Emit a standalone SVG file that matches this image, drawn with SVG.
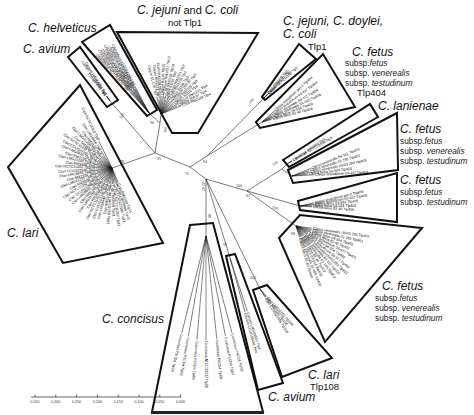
<svg xmlns="http://www.w3.org/2000/svg" width="474" height="415" viewBox="0 0 474 415">
<style>
.bx{fill:none;stroke:#111;stroke-width:2;stroke-linejoin:miter}
.tr line{stroke:#222;stroke-width:0.6;fill:none}
.f line{stroke:#111;stroke-width:0.5}
.f text{font-family:"Liberation Sans",Arial,sans-serif;font-size:3.6px;fill:#000}
.f text.fl{text-anchor:end}
.bs{font-family:"Liberation Sans",Arial,sans-serif;font-size:3.6px;fill:#333}
.sp{font-family:"Liberation Sans",Arial,sans-serif;font-size:12px;font-style:italic;fill:#111}
.ss{font-family:"Liberation Sans",Arial,sans-serif;font-size:8.3px;fill:#222}
.tl{font-family:"Liberation Sans",Arial,sans-serif;font-size:9.5px;fill:#111}
.it{font-style:italic}
</style>
<rect width="474" height="415" fill="#fff"/>

<g id="connectors" class="tr">
<line x1="155" y1="153" x2="112" y2="168"/>
<line x1="155" y1="153" x2="110" y2="101"/>
<line x1="155" y1="153" x2="160" y2="123"/>
<line x1="160" y1="123" x2="149" y2="113"/>
<line x1="160" y1="123" x2="161" y2="114"/>
<line x1="155" y1="153" x2="190" y2="167"/>
<line x1="190" y1="167" x2="207" y2="156"/>
<line x1="207" y1="156" x2="264" y2="98"/>
<line x1="207" y1="156" x2="262" y2="122"/>
<line x1="190" y1="167" x2="206" y2="179"/>
<line x1="206" y1="179" x2="247" y2="191"/>
<line x1="247" y1="191" x2="282" y2="169"/>
<line x1="282" y1="169" x2="287" y2="164"/>
<line x1="282" y1="169" x2="292" y2="176"/>
<line x1="247" y1="191" x2="300" y2="206"/>
<line x1="247" y1="191" x2="296" y2="226"/>
<line x1="206" y1="179" x2="206" y2="236"/>
<line x1="206" y1="179" x2="230" y2="258"/>
<line x1="206" y1="179" x2="260" y2="289"/>
<text class="bs" x="157" y="160">95</text>
<text class="bs" transform="translate(121,119) rotate(-55)">100</text>
<text class="bs" x="150" y="124">96</text>
<text class="bs" transform="translate(166,133) rotate(-80)">100</text>
<text class="bs" x="185" y="175">71</text>
<text class="bs" x="203" y="163">94</text>
<text class="bs" transform="translate(250,104) rotate(-45)">100</text>
<text class="bs" transform="translate(202,182) rotate(90)">42 42</text>
<text class="bs" x="236" y="187">100</text>
<text class="bs" x="246" y="197">67</text>
<text class="bs" transform="translate(273,166) rotate(-30)">100</text>
<text class="bs" transform="translate(272,208) rotate(20)">100</text>
<text class="bs" x="291" y="235">98</text>
<text class="bs" transform="translate(208,214) rotate(90)">88</text>
<text class="bs" x="223" y="246">95</text>
<text class="bs" x="250" y="279">100</text>
<text class="bs" x="120" y="163">78</text>
</g>

<g id="lari-big">
<polygon class="bx" points="80,85 8,167 63,263 163,243"/>
<g class="f" transform="translate(112,168)">
<g transform="rotate(67)"><line x2="16"/><text x="17" y="1.2">Clari RM2100 Tlp11</text></g>
<g transform="rotate(72)"><line x2="20"/><text x="21" y="1.2">Clari LMG8846 Tlp11</text></g>
<g transform="rotate(77)"><line x2="16"/><text x="17" y="1.2">Clari CCUG22395 Tlp11</text></g>
<g transform="rotate(83)"><line x2="20"/><text x="21" y="1.2">Clari NCTC11352 Tlp11</text></g>
<g transform="rotate(88)"><line x2="16"/><text x="17" y="1.2">Clari RM3659 Tlp11</text></g>
<g transform="rotate(94)"><line x2="20"/><text x="21" y="1.2">Clari LMG11250 Tlp11</text></g>
<g transform="rotate(99)"><line x2="16"/><text class="fl" transform="rotate(180)" x="-17" y="1.2">Clari RM2100 Tlp9</text></g>
<g transform="rotate(105)"><line x2="20"/><text class="fl" transform="rotate(180)" x="-21" y="1.2">Clari LMG8846 Tlp9</text></g>
<g transform="rotate(110)"><line x2="16"/><text class="fl" transform="rotate(180)" x="-17" y="1.2">Clari CCUG22395 Tlp9</text></g>
<g transform="rotate(116)"><line x2="20"/><text class="fl" transform="rotate(180)" x="-21" y="1.2">Clari NCTC11352 Tlp9</text></g>
<g transform="rotate(121)"><line x2="16"/><text class="fl" transform="rotate(180)" x="-17" y="1.2">Clari RM3659 Tlp9</text></g>
<g transform="rotate(127)"><line x2="20"/><text class="fl" transform="rotate(180)" x="-21" y="1.2">Clari LMG11250 Tlp9</text></g>
<g transform="rotate(132)"><line x2="16"/><text class="fl" transform="rotate(180)" x="-17" y="1.2">Clari RM2100 Tlp6</text></g>
<g transform="rotate(138)"><line x2="20"/><text class="fl" transform="rotate(180)" x="-21" y="1.2">Clari LMG8846 Tlp6</text></g>
<g transform="rotate(143)"><line x2="16"/><text class="fl" transform="rotate(180)" x="-17" y="1.2">Clari CCUG22395 Tlp6</text></g>
<g transform="rotate(149)"><line x2="20"/><text class="fl" transform="rotate(180)" x="-21" y="1.2">Clari NCTC11352 Tlp6</text></g>
<g transform="rotate(154)"><line x2="16"/><text class="fl" transform="rotate(180)" x="-17" y="1.2">Clari RM3659 Tlp6</text></g>
<g transform="rotate(160)"><line x2="20"/><text class="fl" transform="rotate(180)" x="-21" y="1.2">Clari LMG11250 Tlp6</text></g>
<g transform="rotate(165)"><line x2="16"/><text class="fl" transform="rotate(180)" x="-17" y="1.2">Clari RM2100 Tlp5</text></g>
<g transform="rotate(171)"><line x2="20"/><text class="fl" transform="rotate(180)" x="-21" y="1.2">Clari LMG8846 Tlp5</text></g>
<g transform="rotate(176)"><line x2="16"/><text class="fl" transform="rotate(180)" x="-17" y="1.2">Clari CCUG22395 Tlp5</text></g>
<g transform="rotate(182)"><line x2="20"/><text class="fl" transform="rotate(180)" x="-21" y="1.2">Clari NCTC11352 Tlp5</text></g>
<g transform="rotate(187)"><line x2="16"/><text class="fl" transform="rotate(180)" x="-17" y="1.2">Clari RM3659 Tlp5</text></g>
<g transform="rotate(193)"><line x2="20"/><text class="fl" transform="rotate(180)" x="-21" y="1.2">Clari LMG11250 Tlp5</text></g>
<g transform="rotate(198)"><line x2="16"/><text class="fl" transform="rotate(180)" x="-17" y="1.2">Clari RM2100 Tlp12</text></g>
<g transform="rotate(204)"><line x2="20"/><text class="fl" transform="rotate(180)" x="-21" y="1.2">Clari LMG8846 Tlp12</text></g>
<g transform="rotate(209)"><line x2="16"/><text class="fl" transform="rotate(180)" x="-17" y="1.2">Clari CCUG22395 Tlp12</text></g>
<g transform="rotate(215)"><line x2="20"/><text class="fl" transform="rotate(180)" x="-21" y="1.2">Clari NCTC11352 Tlp12</text></g>
<g transform="rotate(220)"><line x2="16"/><text class="fl" transform="rotate(180)" x="-17" y="1.2">Clari RM3659 Tlp12</text></g>
<g transform="rotate(226)"><line x2="20"/><text class="fl" transform="rotate(180)" x="-21" y="1.2">Clari LMG11250 Tlp12</text></g>
<g transform="rotate(231)"><line x2="16"/><text class="fl" transform="rotate(180)" x="-17" y="1.2">Clari RM2100 Tlp8</text></g>
<g transform="rotate(237)"><line x2="20"/><text class="fl" transform="rotate(180)" x="-21" y="1.2">Clari LMG8846 Tlp8</text></g>
<g transform="rotate(244)"><line x2="30"/><text class="fl" transform="rotate(180)" x="-31" y="1.2">Clari NCTC11352 Tlp8</text></g>
</g>
<text class="sp" x="7" y="237">C. lari</text>
</g>

<g id="avium-top">
<polygon class="bx" points="68,57 80,47 118,100 107,107"/>
<g class="f" transform="translate(110,101)">
<g transform="rotate(-122)"><line x2="6"/><text class="fl" transform="rotate(180)" x="-7" y="1.2">Cavium LMG24591 Tlp1</text></g>
<g transform="rotate(-125)"><line x2="6"/><text class="fl" transform="rotate(180)" x="-7" y="1.2">Cavium CCUG56493 Tlp1</text></g>
<g transform="rotate(-128)"><line x2="6"/><text class="fl" transform="rotate(180)" x="-7" y="1.2">Cavium 86Q Tlp1</text></g>
</g>
<text class="sp" x="23" y="53">C. avium</text>
</g>

<g id="helveticus">
<polygon class="bx" points="82,42 110,25 157,110 147,116"/>
<g class="f" transform="translate(149,113)">
<g transform="rotate(-132)"><line x2="30"/><text class="fl" transform="rotate(180)" x="-31" y="1.2">Chelveticus NCTC12470 Tlp3</text></g>
<g transform="rotate(-130.25)"><line x2="28"/><text class="fl" transform="rotate(180)" x="-29" y="1.2">Chelveticus NCTC12470 Tlp4</text></g>
<g transform="rotate(-128.5)"><line x2="32"/><text class="fl" transform="rotate(180)" x="-33" y="1.2">Chelveticus NCTC12470 Tlp5</text></g>
<g transform="rotate(-126.75)"><line x2="30"/><text class="fl" transform="rotate(180)" x="-31" y="1.2">Chelveticus CCUG34016 Tlp3</text></g>
<g transform="rotate(-125)"><line x2="28"/><text class="fl" transform="rotate(180)" x="-29" y="1.2">Chelveticus CCUG34016 Tlp4</text></g>
<g transform="rotate(-123.25)"><line x2="32"/><text class="fl" transform="rotate(180)" x="-33" y="1.2">Chelveticus CCUG34016 Tlp5</text></g>
<g transform="rotate(-121.5)"><line x2="30"/><text class="fl" transform="rotate(180)" x="-31" y="1.2">Chelveticus ATCC51209 Tlp3</text></g>
<g transform="rotate(-119.75)"><line x2="28"/><text class="fl" transform="rotate(180)" x="-29" y="1.2">Chelveticus ATCC51209 Tlp4</text></g>
<g transform="rotate(-118)"><line x2="30"/><text class="fl" transform="rotate(180)" x="-31" y="1.2">Chelveticus ATCC51209 Tlp5</text></g>
</g>
<text class="sp" x="28" y="32">C. helveticus</text>
</g>

<g id="jejuni-not-tlp1">
<polygon class="bx" points="117,32 258,33 198,133 172,133"/>
<g class="f" transform="translate(161,114)">
<g transform="rotate(-104)"><line x2="18"/><text class="fl" transform="rotate(180)" x="-19" y="1.2">Cjejuni 81-176 Tlp7</text></g>
<g transform="rotate(-98)"><line x2="15"/><text class="fl" transform="rotate(180)" x="-16" y="1.2">Cjejuni RM1221 Tlp7</text></g>
<g transform="rotate(-93)"><line x2="20"/><text class="fl" transform="rotate(180)" x="-21" y="1.2">Ccoli RM2228 Tlp7</text></g>
<g transform="rotate(-87)"><line x2="18"/><text x="19" y="1.2">Cjejuni 81116 Tlp10</text></g>
<g transform="rotate(-82)"><line x2="22"/><text x="23" y="1.2">Cjejuni RM1221 Tlp10</text></g>
<g transform="rotate(-76)"><line x2="18"/><text x="19" y="1.2">Ccoli RM2228 Tlp10</text></g>
<g transform="rotate(-71)"><line x2="15"/><text x="16" y="1.2">Cjejuni 81116 Tlp2</text></g>
<g transform="rotate(-65)"><line x2="20"/><text x="21" y="1.2">Cjejuni RM1221 Tlp2</text></g>
<g transform="rotate(-60)"><line x2="18"/><text x="19" y="1.2">Ccoli RM2228 Tlp2</text></g>
<g transform="rotate(-54)"><line x2="16"/><text x="17" y="1.2">Cjejuni 81116 Tlp3</text></g>
<g transform="rotate(-49)"><line x2="20"/><text x="21" y="1.2">Cdoylei 269.97 Tlp3</text></g>
<g transform="rotate(-43)"><line x2="18"/><text x="19" y="1.2">Ccoli RM2228 Tlp3</text></g>
<g transform="rotate(-38)"><line x2="16"/><text x="17" y="1.2">Cjejuni 81116 Tlp4</text></g>
<g transform="rotate(-32)"><line x2="20"/><text x="21" y="1.2">Cjejuni RM1221 Tlp4</text></g>
<g transform="rotate(-27)"><line x2="18"/><text x="19" y="1.2">Cdoylei 269.97 Tlp4</text></g>
<g transform="rotate(-22)"><line x2="22"/><text x="23" y="1.2">Ccoli RM2228 Tlp4</text></g>
</g>
<text class="sp" x="137" y="14">C. jejuni<tspan font-style="normal" font-size="11px"> and </tspan>C. coli</text>
<text class="tl" x="185" y="26" text-anchor="middle" font-size="10px">not Tlp1</text>
</g>

<g id="tlp1">
<polygon class="bx" points="262,97 265,100 316,59 299,44"/>
<g class="f" transform="translate(264,98)">
<g transform="rotate(-43)"><line x2="5"/><text x="6" y="1.2">Cjejuni NCTC11168 Tlp1</text></g>
<g transform="rotate(-46.5)"><line x2="5"/><text x="6" y="1.2">Cdoylei 269.97 Tlp1</text></g>
<g transform="rotate(-50)"><line x2="5"/><text x="6" y="1.2">Ccoli RM2228 Tlp1</text></g>
</g>
<text class="sp" x="283" y="25" font-size="11.5px">C. jejuni, C. doylei,</text>
<text class="sp" x="283" y="38" font-size="11.5px">C. coli</text>
<text class="tl" x="308" y="50">Tlp1</text>
</g>

<g id="tlp404">
<polygon class="bx" points="256,122 323,54 355,107 260,128"/>
<g class="f" transform="translate(262,122)">
<g transform="rotate(-42)"><line x2="16"/><text x="17" y="1.2">Cfetus testudinum pet-3 Tlp404</text></g>
<g transform="rotate(-36)"><line x2="14"/><text x="15" y="1.2">Cfetus testudinum 03-427 Tlp404</text></g>
<g transform="rotate(-30)"><line x2="12"/><text x="13" y="1.2">Cfetus venerealis 84-112 Tlp404</text></g>
<g transform="rotate(-25)"><line x2="12"/><text x="13" y="1.2">Cfetus venerealis 01-165 Tlp404</text></g>
<g transform="rotate(-20)"><line x2="10"/><text x="11" y="1.2">Cfetus fetus 04-554 Tlp404</text></g>
<g transform="rotate(-15)"><line x2="10"/><text x="11" y="1.2">Cfetus fetus 82-40 Tlp404</text></g>
</g>
<text class="sp" x="352" y="55.5">C. fetus</text>
<text class="ss" x="345" y="65.5">subsp.<tspan class="it">fetus</tspan></text>
<text class="ss" x="345" y="75.5">subsp. <tspan class="it">venerealis</tspan></text>
<text class="ss" x="345" y="85.5">subsp. <tspan class="it">testudinum</tspan></text>
<text class="tl" x="357" y="96">Tlp404</text>
</g>

<g id="lanienae">
<polygon class="bx" points="283,160 370,104 378,117 289,167"/>
<g class="f" transform="translate(287,164)">
<g transform="rotate(-30.5)"><line x2="6"/><text x="7" y="1.2">Clanienae NCTC13004 Tlp3</text></g>
<g transform="rotate(-33.5)"><line x2="6"/><text x="7" y="1.2">Clanienae RM3663 Tlp3</text></g>
</g>
<text class="sp" x="378" y="110">C. lanienae</text>
</g>

<g id="fetus-tlp403">
<polygon class="bx" points="288,170 397,113 398,170 293,183"/>
<g class="f" transform="translate(292,176)">
<g transform="rotate(-22)"><line x2="20"/><text x="21" y="1.2">Cfetus venerealis 84-112 Tlp403</text></g>
<g transform="rotate(-17)"><line x2="18"/><text x="19" y="1.2">Cfetus venerealis 01-165 Tlp403</text></g>
<g transform="rotate(-12)"><line x2="18"/><text x="19" y="1.2">Cfetus venerealis cfvi03 293 Tlp403</text></g>
<g transform="rotate(-7)"><line x2="16"/><text x="17" y="1.2">Cfetus fetus 04-554 Tlp403</text></g>
<g transform="rotate(-3)"><line x2="22"/><text x="23" y="1.2">Cfetus testudinum 03-427 Tlp403</text></g>
</g>
<text class="sp" x="400" y="133">C. fetus</text>
<text class="ss" x="400" y="144">subsp.<tspan class="it">fetus</tspan></text>
<text class="ss" x="400" y="154">subsp. <tspan class="it">venerealis</tspan></text>
<text class="ss" x="400" y="164">subsp. <tspan class="it">testudinum</tspan></text>
</g>

<g id="fetus-tlp405">
<polygon class="bx" points="298,201 397,173 397,222 300,210"/>
<g class="f" transform="translate(300,206)">
<g transform="rotate(-13)"><line x2="14"/><text x="15" y="1.2">Cfetus testudinum pet-3 Tlp405</text></g>
<g transform="rotate(-9)"><line x2="14"/><text x="15" y="1.2">Cfetus testudinum 03-427 Tlp405</text></g>
<g transform="rotate(-5)"><line x2="14"/><text x="15" y="1.2">Cfetus fetus 04-554 Tlp405</text></g>
<g transform="rotate(0)"><line x2="12"/><text x="13" y="1.2">Cfetus fetus 04-534 Tlp405</text></g>
<g transform="rotate(4)"><line x2="12"/><text x="13" y="1.2">Cfetus fetus 82-40 Tlp405</text></g>
</g>
<text class="sp" x="400" y="184">C. fetus</text>
<text class="ss" x="400" y="195">subsp.<tspan class="it">fetus</tspan></text>
<text class="ss" x="400" y="205">subsp. <tspan class="it">testudinum</tspan></text>
</g>

<g id="fetus-tlp401">
<polygon class="bx" points="279,238 300,215 422,228 325,342"/>
<g class="f" transform="translate(296,226)">
<g transform="rotate(8)"><line x2="16"/><text x="17" y="1.2">Cfetus venerealis cfvi03 293 Tlp401</text></g>
<g transform="rotate(13)"><line x2="16"/><text x="17" y="1.2">Cfetus venerealis 01-165 Tlp401</text></g>
<g transform="rotate(18)"><line x2="16"/><text x="17" y="1.2">Cfetus fetus 04-554 Tlp401</text></g>
<g transform="rotate(23)"><line x2="16"/><text x="17" y="1.2">Cfetus fetus 82-40 Tlp401</text></g>
<g transform="rotate(28)"><line x2="14"/><text x="15" y="1.2">Cfetus testudinum 03-427 Tlp401</text></g>
<g transform="rotate(33)"><line x2="14"/><text x="15" y="1.2">Cfetus fetus 04-554 Tlp402</text></g>
<g transform="rotate(38)"><line x2="14"/><text x="15" y="1.2">Cfetus testudinum 03-427 Tlp402</text></g>
<g transform="rotate(43)"><line x2="12"/><text x="13" y="1.2">Cfetus venerealis cfvi03 293 Tlp402</text></g>
<g transform="rotate(48)"><line x2="12"/><text x="13" y="1.2">Cfetus venerealis 84-112 Tlp402</text></g>
<g transform="rotate(53)"><line x2="12"/><text x="13" y="1.2">Cfetus venerealis 01-165 Tlp402</text></g>
<g transform="rotate(58)"><line x2="12"/><text x="13" y="1.2">Cfetus fetus 82-40 Tlp402</text></g>
<g transform="rotate(63)"><line x2="12"/><text x="13" y="1.2">Cfetus fetus 04-554 Tlp400</text></g>
<g transform="rotate(68)"><line x2="12"/><text x="13" y="1.2">Cfetus venerealis 01-165 Tlp400</text></g>
<g transform="rotate(73)"><line x2="12"/><text x="13" y="1.2">Cfetus fetus 82-40 Tlp400</text></g>
</g>
<text class="sp" x="382" y="290">C. fetus</text>
<text class="ss" x="375" y="300.5">subsp.<tspan class="it">fetus</tspan></text>
<text class="ss" x="375" y="310.5">subsp. <tspan class="it">venerealis</tspan></text>
<text class="ss" x="375" y="320.5">subsp. <tspan class="it">testudinum</tspan></text>
</g>

<g id="lari-tlp108">
<polygon class="bx" points="253,290 267,285 332,358 282,377"/>
<g class="f" transform="translate(260,289)">
<g transform="rotate(48)"><line x2="10"/><text x="11" y="1.2">Clari LMG11250 Tlp108</text></g>
<g transform="rotate(53)"><line x2="10"/><text x="11" y="1.2">Clari RM2100 Tlp108</text></g>
<g transform="rotate(58)"><line x2="10"/><text x="11" y="1.2">Clari CCUG22395 Tlp108</text></g>
</g>
<text class="sp" x="308" y="378.5">C. lari</text>
<text class="tl" x="310" y="390" font-size="9px">Tlp108</text>
</g>

<g id="avium-bottom">
<polygon class="bx" points="226,256 235,254 283,383 258,390"/>
<g class="f" transform="translate(230,258)">
<g transform="rotate(72)"><line x2="56"/><text x="57" y="1.2">Cavium LMG24591 Tlp4</text></g>
<g transform="rotate(74.5)"><line x2="56"/><text x="57" y="1.2">Cavium CCUG56493 Tlp4</text></g>
</g>
<text class="sp" x="268" y="401">C. avium</text>
</g>

<g id="concisus">
<polygon class="bx" points="190,225 213,223 263,412 152,412"/>
<line x1="151" y1="412.5" x2="264" y2="412.5" stroke="#222" stroke-width="3"/>
<g class="f" transform="translate(206,236)">
<g transform="rotate(104)"><line x2="100"/><text x="101" y="1.2">Cconcisus P3CD4 Tlp55</text></g>
<g transform="rotate(100)"><line x2="102"/><text x="103" y="1.2">Cconcisus P5CD4 Tlp61</text></g>
<g transform="rotate(95)"><line x2="104"/><text x="105" y="1.2">Cconcisus P2CD4 Tlp56</text></g>
<g transform="rotate(90)"><line x2="104"/><text x="105" y="1.2">Cconcisus ATCC33237 Tlp08</text></g>
<g transform="rotate(84)"><line x2="104"/><text x="105" y="1.2">Cconcisus P6CD4 Tlp58</text></g>
<g transform="rotate(79)"><line x2="102"/><text x="103" y="1.2">Cconcisus P1CD4 Tlp57</text></g>
<g transform="rotate(75)"><line x2="100"/><text x="101" y="1.2">Cconcisus P4CD4 Tlp59</text></g>
</g>
<text class="sp" x="102" y="323">C. concisus</text>
</g>

<g id="scale-bar">
<line x1="31" y1="397" x2="181" y2="397" stroke="#222" stroke-width="0.7"/>
<g stroke="#222" stroke-width="0.7">
<line x1="35" y1="394.5" x2="35" y2="397"/>
<line x1="55.8" y1="394.5" x2="55.8" y2="397"/>
<line x1="76.6" y1="394.5" x2="76.6" y2="397"/>
<line x1="97.4" y1="394.5" x2="97.4" y2="397"/>
<line x1="118.2" y1="394.5" x2="118.2" y2="397"/>
<line x1="139" y1="394.5" x2="139" y2="397"/>
<line x1="159.8" y1="394.5" x2="159.8" y2="397"/>
<line x1="180.6" y1="394.5" x2="180.6" y2="397"/>
</g>
<g class="bs" text-anchor="middle">
<text x="35" y="403">0.350</text>
<text x="55.8" y="403">0.300</text>
<text x="76.6" y="403">0.250</text>
<text x="97.4" y="403">0.200</text>
<text x="118.2" y="403">0.150</text>
<text x="139" y="403">0.100</text>
<text x="159.8" y="403">0.050</text>
<text x="180.6" y="403">0.000</text>
</g>
</g>
</svg>
